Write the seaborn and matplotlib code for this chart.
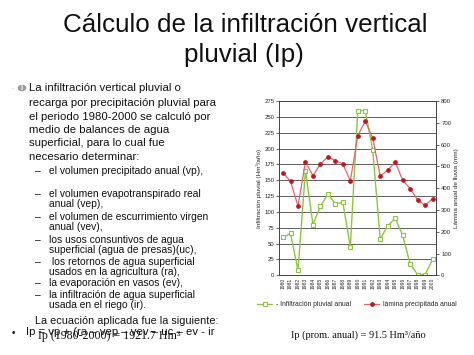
import matplotlib
matplotlib.use("Agg")
import matplotlib.pyplot as plt
import seaborn as sns
import pandas as pd
from matplotlib.patches import Circle

years = [str(y) for y in range(1980, 2001)]
infiltracion = [60, 66, 8, 165, 80, 109, 128, 113, 115, 45, 260, 260, 197, 57, 78, 90, 63, 18, 1, 1, 25]
lamina = [471, 431, 318, 520, 457, 511, 544, 526, 511, 433, 641, 708, 628, 456, 482, 520, 437, 398, 346, 321, 352]
left_ticks = list(range(0, 276, 25))
right_ticks = list(range(0, 801, 100))

df = pd.DataFrame({"idx": range(len(years)), "year": years,
                   "inf": infiltracion, "lam": lamina})

sns.set_style("white")
plt.rcParams['font.family'] = ['Liberation Sans', 'DejaVu Sans']

fig = plt.figure(figsize=(4.74, 3.55), dpi=100)
fig.patch.set_facecolor("white")

W, H = 474, 355
def fx(x): return x / W
def fy(y): return 1 - y / H

# Title
fig.text(fx(245), fy(25), "Cálculo de la infiltración vertical", ha="center", va="center",
         fontsize=18.7, color="#111111")
fig.text(fx(244), fy(55), "pluvial (Ip)", ha="center", va="center",
         fontsize=18.7, color="#111111")

# Left text block
body = 8.2
sub = 7.4
fig.text(fx(12), fy(89), "·", ha="center", va="center", fontsize=8, color="#aaaaaa")
fig.patches.append(Circle((fx(22), fy(88)), 4.3 / W, transform=fig.transFigure,
                          facecolor="#9a9a9a", edgecolor="none"))
fig.text(fx(22), fy(88.5), "i", ha="center", va="center", fontsize=5.5, color="white",
         fontweight="bold")
main_lines = [
    (88, "La infiltración vertical pluvial o"),
    (103, "recarga por precipitación pluvial para"),
    (117, "el periodo 1980-2000 se calculó por"),
    (130, "medio de balances de agua"),
    (143, "superficial, para lo cual fue"),
    (157, "necesario determinar:"),
]
for y, t in main_lines:
    fig.text(fx(29), fy(y), t, ha="left", va="center", fontsize=body, color="#111111")

sub_items = [
    [(171.5, "el volumen precipitado anual (vp),")],
    [(194, "el volumen evapotranspirado real"), (204, "anual (vep),")],
    [(217, "el volumen de escurrimiento virgen"), (227, "anual (vev),")],
    [(240, "los usos consuntivos de agua"), (250, "superficial (agua de presas)(uc),")],
    [(262, " los retornos de agua superficial"), (272, "usados en la agricultura (ra),")],
    [(283, "la evaporación en vasos (ev),")],
    [(295, "la infiltración de agua superficial"), (305, "usada en el riego (ir).")],
]
for item in sub_items:
    fig.text(fx(35), fy(item[0][0]), "–", ha="left", va="center", fontsize=sub, color="#111111")
    for y, t in item:
        fig.text(fx(49), fy(y), t, ha="left", va="center", fontsize=sub, color="#111111")

fig.text(fx(35), fy(321), "La ecuación aplicada fue la siguiente:", ha="left", va="center",
         fontsize=7.8, color="#111111")
fig.text(fx(13), fy(333), "•", ha="center", va="center", fontsize=7, color="#111111")
fig.text(fx(26), fy(332), "Ip = vp + (ra – vep – vev – uc – ev - ir", ha="left", va="center",
         fontsize=8.2, color="#111111")
fig.text(fx(38), fy(336), "Ip (1980-2000) = 1921.7 Hm³", ha="left", va="center",
         fontsize=8.6, color="#111111", family=["Liberation Serif", "DejaVu Serif"])

# Chart
ax = fig.add_axes([fx(279.3), fy(275.3), (436.3 - 279.3) / W, (275.3 - 101) / H])
green = "#8cc63e"
red = "#e8636e"
sns.lineplot(data=df, x="idx", y="inf", ax=ax, color=green, lw=1.0, marker="s",
             markersize=3.2, markerfacecolor="white", markeredgecolor=green,
             markeredgewidth=0.8, label="Infiltración pluvial anual", legend=False)
ax2 = ax.twinx()
sns.lineplot(data=df, x="idx", y="lam", ax=ax2, color=red, lw=0.9, marker="o",
             markersize=2.6, markerfacecolor="#c0141e", markeredgecolor="#c0141e",
             label="lámina precipitada anual", legend=False)

ax.set_xlim(-0.45, len(years) - 1 + 0.45)
ax.set_ylim(0, 275)
ax2.set_ylim(0, 800)
ax.set_yticks(left_ticks)
ax2.set_yticks(right_ticks)
ax.set_xticks(range(len(years)))
ax.set_xticklabels(years, rotation=90, fontsize=3.6)
ax.tick_params(axis="x", length=0, pad=2)
ax.tick_params(axis="y", labelsize=4.3, length=2, width=0.5, pad=1.5)
ax2.tick_params(axis="y", labelsize=4.3, length=2, width=0.5, pad=1.5)
ax.yaxis.grid(True, color="#444444", lw=0.6)
ax.xaxis.grid(False)
ax.set_axisbelow(True)
ax.set_xlabel("")
ax.set_ylabel("Infiltración pluvial (Hm³/año)", fontsize=4.6, labelpad=2)
ax2.set_ylabel("Lámina anual de lluvia (mm)", fontsize=4.6, labelpad=2)
for a in (ax, ax2):
    for s in a.spines.values():
        s.set_color("#444444")
        s.set_linewidth(0.6)

ax.set_xticks([i + 0.5 for i in range(-1, len(years))], minor=True)
ax.tick_params(axis="x", which="minor", length=2, width=0.5, color="#444444")

h1, l1 = ax.get_legend_handles_labels()
h2, l2 = ax2.get_legend_handles_labels()
fig.legend(h1 + h2, ["- Infiltración pluvial anual", "lámina precipitada anual"],
           loc="center", bbox_to_anchor=(fx(357), fy(305)), ncol=2, frameon=False,
           fontsize=4.9, handlelength=2.2, columnspacing=2.0, handletextpad=0.5)

fig.text(fx(358), fy(335), "Ip (prom. anual) = 91.5 Hm³/año", ha="center", va="center",
         fontsize=7.4, color="#111111", family=["Liberation Serif", "DejaVu Serif"])

fig.savefig("out.png", dpi=100, facecolor="white")
